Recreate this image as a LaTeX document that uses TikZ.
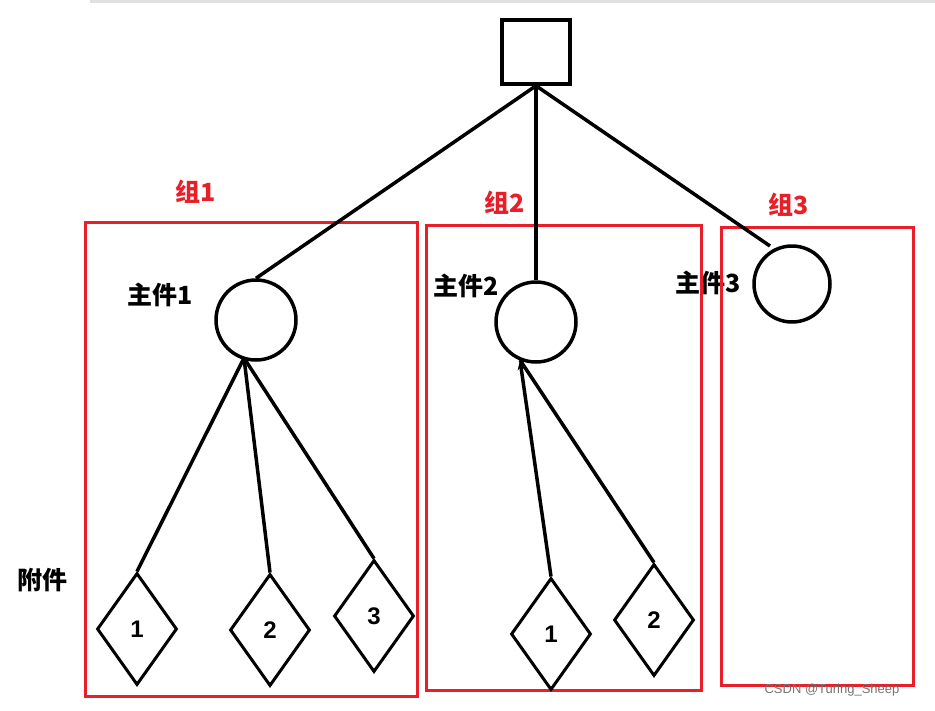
\documentclass[tikz,border=0pt]{standalone}
\usepackage{fontspec}
\setmainfont{Liberation Sans}
\newfontfamily\cjk{Noto Sans CJK SC}
\usetikzlibrary{shapes.geometric,arrows.meta}
\definecolor{gred}{RGB}{232,30,40}
\begin{document}
\begin{tikzpicture}[x=1pt,y=-1pt,
  ln/.style={line width=3.5pt,black},
  grp/.style={draw=gred,line width=3pt},
  circ/.style={circle,draw,line width=3.5pt,minimum size=80pt,inner sep=0},
  dia/.style={diamond,draw,line width=3pt,inner sep=0,minimum width=80pt,minimum height=112pt,font=\bfseries\fontsize{24}{24}\selectfont},
  lab/.style={font=\cjk\bfseries\fontsize{25}{25}\selectfont},
  glab/.style={lab,text=gred}]
\useasboundingbox (0,0) rectangle (935,710);
\draw[black!12,line width=3pt] (90,1) -- (935,1);
\node[draw,line width=3.5pt,minimum width=68pt,minimum height=64pt,inner sep=0] (root) at (536,52) {};
\node[circ] (c1) at (256,320) {};
\node[circ] (c2) at (536,322) {};
\node[circ,minimum size=76pt] (c3) at (792,284) {};
\node[lab] (l1) at (160,295) {主件1};
\node[lab] (l2) at (466,286) {主件2};
\node[lab] (l3) at (708,283) {主件3};
\node[lab] (fj) at (42,580) {附件};
\draw[grp] (85,222) rectangle (417,696);
\draw[grp] (426,225) rectangle (701,690);
\draw[grp] (721,227) rectangle (913,685);
\node[glab] (g1) at (196,192) {组1};
\node[glab] (g2) at (505,203) {组2};
\node[glab] (g3) at (789,205) {组3};
\node[dia] (d1) at (137,629) {1};
\node[dia] (d2) at (270,630) {2};
\node[dia] (d3) at (374,616) {3};
\node[dia] (d4) at (551,634) {1};
\node[dia] (d5) at (654,620) {2};
\draw[ln] (root.south) -- (c1.north);
\draw[ln] (root.south) -- (c2.north);
\draw[ln] (root.south) -- (770,246);
\coordinate (b1) at (244,358);
\coordinate (b2) at (520,360);
\draw[ln] (d1.north) -- (b1);
\draw[ln] (d2.north) -- (b1);
\draw[ln] (d3.north) -- (b1);
\draw[ln,-{Stealth[length=10pt]}] (d4.north) -- (b2);
\draw[ln] (d5.north) -- (b2);
\node[text=black!55,font=\fontsize{13}{13}\selectfont] (wm) at (832,690) {CSDN @Turing\_Sheep};
\end{tikzpicture}
\end{document}
